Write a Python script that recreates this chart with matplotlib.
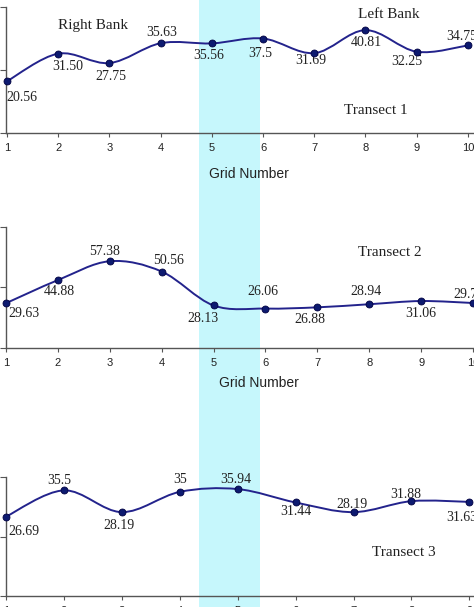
import numpy as np
import matplotlib
matplotlib.use("Agg")
import matplotlib.pyplot as plt
from matplotlib.path import Path
from matplotlib.patches import PathPatch, Rectangle

# ------------------------------------------------------------
# Data
# ------------------------------------------------------------
grid_t1 = [1, 2, 3, 4, 5, 6, 7, 8, 9, 10]
vals_t1 = [20.56, 31.50, 27.75, 35.63, 35.56, 37.5, 31.69, 40.81, 32.25, 34.75]
text_t1 = ["20.56", "31.50", "27.75", "35.63", "35.56", "37.5", "31.69", "40.81", "32.25", "34.75"]

grid_t2 = [1, 2, 3, 4, 5, 6, 7, 8, 9, 10]
vals_t2 = [29.63, 44.88, 57.38, 50.56, 28.13, 26.06, 26.88, 28.94, 31.06, 29.75]
text_t2 = ["29.63", "44.88", "57.38", "50.56", "28.13", "26.06", "26.88", "28.94", "31.06", "29.75"]

grid_t3 = [1, 2, 3, 4, 5, 6, 7, 8, 9]
vals_t3 = [26.69, 35.5, 28.19, 35, 35.94, 31.44, 28.19, 31.88, 31.63]
text_t3 = ["26.69", "35.5", "28.19", "35", "35.94", "31.44", "28.19", "31.88", "31.63"]

# label offsets in pixels (dx, dy) from each point
off_t1 = [(15, -16), (10, -13), (1, -13), (1, 11), (-3, -12), (-3, -15),
          (-3, -7), (1, -12), (-10, -10), (-6, 9)]
off_t2 = [(18, -10), (1, -11), (-5, 10), (7, 11), (-11, -13), (-3, 17),
          (-7, -12), (-3, 13), (0, -12), (-4, 9)]
off_t3 = [(18, -15), (-5, 10), (-3, -13), (0, 12), (-2, 10), (0, -9),
          (-2, 8), (-6, 7), (-8, -16)]

LINE = "#23238c"
MARK = "#0d1a70"
BAND = "#c6f7fc"
SPINE = "#555555"
SERIF = ["Liberation Serif", "DejaVu Serif"]
SANS = ["Liberation Sans", "DejaVu Sans"]

W, H = 474, 607


def px(x, y):
    return x / W, 1 - y / H


def smooth_path(x, y):
    # Catmull-Rom style smoothing drawn as cubic Bezier segments
    x = np.asarray(x, float)
    y = np.asarray(y, float)
    pts = np.column_stack([x, y])
    ext = np.vstack([pts[0], pts, pts[-1]])
    verts = [pts[0]]
    codes = [Path.MOVETO]
    for i in range(1, len(ext) - 2):
        p0, p1, p2, p3 = ext[i - 1], ext[i], ext[i + 1], ext[i + 2]
        c1 = p1 + (p2 - p0) / 6.0
        c2 = p2 - (p3 - p1) / 6.0
        verts += [c1, c2, p2]
        codes += [Path.CURVE4] * 3
    return Path(verts, codes)


def panel(ax, gx, gv, labels, offs, xlim, ylim, yticks):
    ax.set_facecolor("none")
    ax.add_patch(PathPatch(smooth_path(gx, gv), fc="none", ec=LINE, lw=1.4,
                           clip_on=False, zorder=3))
    ax.plot(gx, gv, "o", ms=5, color=MARK, mec="#000040", mew=0.6,
            clip_on=False, zorder=4)
    for x, v, t, (dx, dy) in zip(gx, gv, labels, offs):
        ax.annotate(t, xy=(x, v), xytext=(dx, dy), textcoords="offset pixels",
                    ha="center", va="center", fontsize=10, family=SERIF,
                    color="#222222", annotation_clip=False)
    ax.set_xlim(*xlim)
    ax.set_ylim(*ylim)
    ax.set_xticks(range(1, int(xlim[1]) + 1))
    ax.set_yticks(yticks)
    ax.set_yticklabels([])
    for s in ["top", "right"]:
        ax.spines[s].set_visible(False)
    for s in ["left", "bottom"]:
        ax.spines[s].set_color(SPINE)
        ax.spines[s].set_linewidth(1.0)
    ax.tick_params(axis="x", direction="out", length=3, width=0.8,
                   color=SPINE, pad=4, labelsize=8, labelcolor="#222222")
    ax.tick_params(axis="y", direction="out", length=4.3, width=0.8, color=SPINE)
    for lab in ax.get_xticklabels():
        lab.set_family(SANS)


fig = plt.figure(figsize=(W / 100, H / 100), dpi=100)

# shaded band across all panels
fig.add_artist(Rectangle(px(199, 607), 61 / W, 1, transform=fig.transFigure,
                         color=BAND, lw=0, zorder=-1))

ax1 = fig.add_axes([6 / W, 1 - 133 / H, 468 / W, 126 / H])
ax2 = fig.add_axes([6 / W, 1 - 348 / H, 468 / W, 121 / H])
ax3 = fig.add_axes([6 / W, 1 - 596 / H, 468 / W, 119 / H])

panel(ax1, grid_t1, vals_t1, text_t1, off_t1, (0.98, 10.12), (0, 50), [0, 25, 50])
panel(ax2, grid_t2, vals_t2, text_t2, off_t2, (1.0, 10.02), (0, 80), [0, 40, 80])
panel(ax3, grid_t3, vals_t3, text_t3, off_t3, (1.0, 9.08), (0, 40), [0, 20, 40])

fig.text(*px(93, 26), "Right Bank", ha="center", va="center", fontsize=11, family=SERIF, color="#222222")
fig.text(*px(389, 15), "Left Bank", ha="center", va="center", fontsize=11, family=SERIF, color="#222222")
fig.text(*px(376, 110), "Transect 1", ha="center", va="center", fontsize=11, family=SERIF, color="#222222")
fig.text(*px(390, 253), "Transect 2", ha="center", va="center", fontsize=11, family=SERIF, color="#222222")
fig.text(*px(404, 553), "Transect 3", ha="center", va="center", fontsize=11, family=SERIF, color="#222222")

fig.text(*px(249, 174), "Grid Number", ha="center", va="center", fontsize=10, family=SANS, color="#222222")
fig.text(*px(259, 383), "Grid Number", ha="center", va="center", fontsize=10, family=SANS, color="#222222")

fig.savefig("out.png", dpi=100)
